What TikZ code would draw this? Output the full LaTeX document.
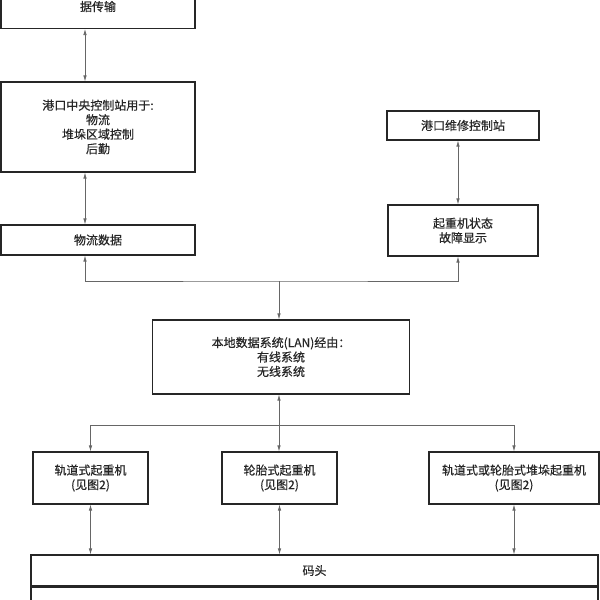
\documentclass[tikz,border=0pt]{standalone}
\usepackage{fontspec}
\newfontfamily\cjk[FakeBold=0.5]{Noto Sans CJK SC}
\usetikzlibrary{arrows.meta}
\tikzset{
  box/.style={draw=black!85, line width=1.1pt, align=center, inner sep=0pt,
    font=\cjk\fontsize{12}{14.5}\selectfont, text=black!85},
  link/.style={draw=black!60, line width=0.7pt,
    {Latex[length=6pt,width=3.5pt]}-{Latex[length=6pt,width=3.5pt]}},
  feed/.style={draw=black!60, line width=0.7pt, -{Latex[length=6pt,width=3.5pt]}},
}
\begin{document}
\begin{tikzpicture}[x=1pt,y=-1pt]
  \useasboundingbox (0,0) rectangle (600,600);
  \clip (0,0) rectangle (600,600);
  % left column
  \node[box, minimum width=194pt, minimum height=44pt] (top) at (98,6.5) {据传输};
  \node[box, minimum width=194pt, minimum height=90pt] (central) at (98,127)
    {港口中央控制站用于:\\物流\\堆垛区域控制\\后勤};
  \node[box, minimum width=194pt, minimum height=30pt] (data) at (98,240) {物流数据};
  % right column
  \node[box, minimum width=152pt, minimum height=29pt] (maint) at (463,125.5) {港口维修控制站};
  \node[box, minimum width=150pt, minimum height=51pt] (status) at (463,230.5)
    {起重机状态\\故障显示};
  % network
  \node[box, minimum width=257pt, minimum height=74pt] (lan) at (281,357)
    {本地数据系统(LAN)经由：\\有线系统\\无线系统};
  % cranes
  \node[box, minimum width=115pt, minimum height=52pt] (left) at (90.5,478)
    {轨道式起重机\\(见图2)};
  \node[box, minimum width=115pt, minimum height=52pt] (mid) at (279.5,478)
    {轮胎式起重机\\(见图2)};
  \node[box, minimum width=170pt, minimum height=52pt] (right) at (514,478)
    {轨道式或轮胎式堆垛起重机\\(见图2)};
  % quay
  \node[box, minimum width=567pt, minimum height=31pt] (quay) at (314.5,570.5) {码头};
  \node[box, minimum width=567pt, minimum height=40pt, anchor=north] (ground) at (quay.south) {};

  \coordinate (colL) at (85,0);
  \coordinate (colR) at (458,0);
  \coordinate (hub) at (279,281);
  \coordinate (fork) at (279,425);

  \draw[link] (top.south -| colL) -- (central.north -| colL);
  \draw[link] (central.south -| colL) -- (data.north -| colL);
  \draw[link] (maint.south -| colR) -- (status.north -| colR);
  \draw[link] (data.south -| colL) |- (hub) -| (status.south -| colR);
  \draw[feed] (hub) -- (lan.north -| hub);
  \draw[link] (lan.south -| fork) -- (mid.north -| fork);
  \draw[feed] (fork) -| (left.north);
  \draw[feed] (fork) -| (right.north);
  \foreach \n in {left,mid,right}
    \draw[link] (\n.south) -- (\n.south |- quay.north);
\end{tikzpicture}
\end{document}
